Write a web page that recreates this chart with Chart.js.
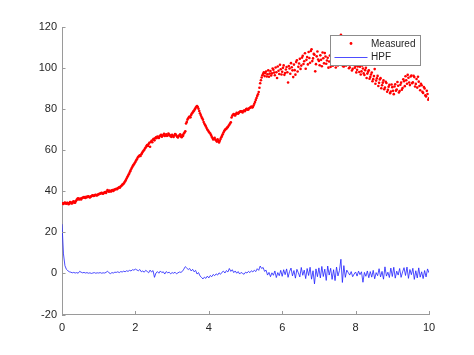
<!DOCTYPE html>
<html>
<head>
<meta charset="utf-8">
<script src="https://cdn.jsdelivr.net/npm/chart.js@4/dist/chart.umd.min.js"></script>
<style>
  html, body { margin: 0; padding: 0; background: #fff; }
  #wrap { width: 474px; height: 355px; }
</style>
</head>
<body>
<div id="wrap"><canvas id="c" width="474" height="355"></canvas></div>
<script>
// sample spacing of the recorded signals (seconds)
const dtMeasured = 0.02;
const dtHpf = 0.04;
const seriesNames = ["Measured", "HPF"];
const xTickValues = [0, 2, 4, 6, 8, 10];
const yTickValues = [-20, 0, 20, 40, 60, 80, 100, 120];

// Measured values (t = 0 .. 10 s, every 0.02 s)
const measured = [
  34.2, 34.0, 33.8, 34.3, 34.5, 34.1, 33.9, 34.4, 34.3, 33.7, 34.0, 34.8, 34.6, 34.1, 34.2, 34.9, 35.1, 34.4, 34.5, 35.3, 35.8, 36.3, 36.6, 36.0, 36.2,
  36.5, 36.0, 36.6, 36.8, 37.0, 37.2, 36.9, 36.7, 37.3, 37.1, 37.4, 37.5, 37.2, 37.0, 37.4, 37.6, 37.9, 38.0, 37.7, 37.8, 38.2, 38.3, 38.0, 38.1, 38.4,
  38.6, 38.7, 38.9, 39.0, 39.3, 38.9, 38.8, 39.2, 39.5, 39.6, 39.2, 39.9, 40.6, 40.1, 39.8, 40.3, 40.0, 39.9, 40.5, 40.6, 40.2, 40.7, 40.9, 41.0, 41.2,
  41.0, 41.5, 41.7, 42.0, 41.8, 42.4, 42.7, 43.1, 43.4, 43.8, 44.3, 44.9, 45.5, 46.2, 46.9, 47.6, 48.3, 49.0, 49.8, 50.6, 51.3, 52.0, 52.6, 53.2, 53.8,
  54.3, 55.0, 55.6, 56.3, 56.8, 57.1, 57.5, 57.2, 58.0, 58.6, 59.2, 59.7, 60.1, 60.8, 61.3, 62.0, 62.5, 62.1, 63.0, 63.6, 61.7, 64.0, 64.6, 63.9, 65.2,
  65.5, 64.8, 65.8, 66.3, 65.9, 66.7, 66.4, 66.0, 66.8, 67.1, 67.5, 66.6, 67.0, 67.4, 68.0, 66.9, 67.3, 67.8, 67.0, 67.2, 68.1, 67.6, 67.3, 66.8, 66.5,
  67.5, 67.0, 66.4, 67.2, 67.9, 67.6, 67.0, 66.5, 66.2, 66.9, 67.3, 67.7, 66.8, 66.3, 67.4, 67.0, 68.1, 68.6, 69.2, 73.0, 73.8, 74.9, 75.6, 76.2, 76.4,
  76.0, 77.2, 77.9, 78.4, 78.9, 79.3, 80.0, 80.6, 81.2, 81.5, 81.0, 80.2, 79.1, 78.0, 77.1, 76.3, 75.6, 74.8, 73.7, 72.9, 72.3, 71.6, 70.8, 70.1, 69.6,
  69.0, 68.5, 68.1, 67.4, 66.6, 65.9, 65.2, 65.6, 66.0, 65.1, 64.7, 64.2, 65.3, 64.5, 63.8, 64.6, 65.5, 66.3, 67.0, 67.8, 68.6, 69.3, 69.9, 70.2, 70.5,
  71.0, 71.3, 71.9, 72.4, 73.0, 73.6, 75.9, 76.8, 77.3, 77.6, 77.1, 76.9, 77.6, 78.2, 78.0, 77.8, 78.3, 78.6, 78.9, 79.0, 78.7, 78.4, 79.1, 79.3, 79.0,
  79.6, 80.0, 80.2, 79.7, 79.8, 80.4, 80.7, 80.9, 81.3, 80.8, 81.0, 81.8, 82.6, 83.5, 84.5, 85.4, 86.4, 87.2, 88.3, 90.4, 92.6, 94.1, 95.4, 96.5, 97.2,
  98.0, 96.1, 97.5, 98.3, 95.9, 97.0, 98.9, 95.8, 97.3, 98.6, 96.4, 97.4, 99.8, 99.2, 97.8, 96.5, 100.3, 98.0, 95.2, 100.8, 98.7, 97.1, 101.6, 99.4, 96.9,
  98.2, 100.1, 101.3, 96.7, 97.6, 99.3, 100.5, 98.0, 93.0, 101.0, 99.8, 97.2, 102.4, 100.4, 98.9, 95.6, 101.7, 99.0, 96.8, 102.9, 103.8, 98.3, 100.6, 102.2, 104.5,
  99.6, 101.2, 105.1, 106.0, 102.0, 103.3, 107.2, 99.7, 104.0, 105.4, 101.8, 107.8, 104.9, 102.6, 108.3, 109.2, 103.4, 104.7, 106.9, 106.5, 98.4, 101.9, 105.7, 108.1, 104.2,
  103.5, 101.4, 106.2, 104.0, 100.9, 107.6, 104.8, 102.3, 107.3, 105.6, 102.1, 103.7, 105.0, 100.2, 103.2, 106.1, 100.6, 102.9, 104.4, 101.1, 106.8, 103.6, 102.0, 100.3, 105.5,
  103.0, 101.3, 104.7, 103.9, 102.4, 116.2, 105.3, 102.7, 100.9, 100.8, 103.5, 104.6, 101.2, 101.9, 102.6, 103.1, 99.9, 100.4, 101.7, 102.8, 98.8, 99.6, 102.0, 101.5, 100.2,
  101.0, 97.9, 99.2, 100.8, 102.3, 98.1, 100.7, 96.9, 98.4, 101.2, 99.8, 97.4, 96.6, 99.0, 100.1, 95.2, 97.3, 98.2, 98.9, 94.8, 95.7, 96.9, 97.8, 93.6, 94.6,
  96.1, 99.5, 92.4, 93.9, 95.0, 96.2, 91.3, 92.8, 94.4, 95.1, 90.2, 91.6, 92.9, 94.0, 89.7, 90.5, 93.3, 92.7, 88.5, 89.4, 90.9, 91.8, 87.8, 88.6, 92.0,
  90.7, 88.9, 87.3, 91.0, 92.1, 89.0, 89.6, 93.2, 91.4, 88.1, 88.8, 91.9, 92.9, 89.5, 90.3, 94.5, 93.6, 91.2, 96.0, 94.1, 92.4, 96.7, 95.3, 93.0, 91.7,
  95.9, 96.4, 92.6, 93.1, 96.2, 95.6, 91.0, 92.3, 94.7, 90.5, 95.8, 93.4, 91.3, 89.2, 92.4, 91.6, 88.4, 87.9, 90.8, 90.1, 86.7, 86.2, 88.9, 87.4, 84.6,
  85.3
];

// High-pass filtered values (t = 0 .. 10 s, every 0.04 s)
const hpf = [
  24.0, 9.5, 3.8, 2.0, 1.3, 0.8, 0.6, 0.3, 0.5, 0.2, 0.4, 0.1, 1.0, 0.6, 0.3, 0.5, 0.2, 0.4, 0.1, 0.3, 0.0, 0.2, 0.4, 0.1, 0.3,
  0.2, 0.4, 0.1, 0.3, 0.2, 0.5, 1.1, 0.3, -0.1, 0.4, 0.2, 0.6, 0.5, 0.8, 0.4, 0.9, 0.7, 1.1, 0.8, 1.3, 1.0, 1.5, 1.2, 1.8, 1.6,
  2.1, 1.7, 1.3, 1.9, 0.8, 1.2, 0.6, 1.5, 1.0, 0.3, 1.6, 0.7, 1.4, -1.9, 0.2, 0.9, 0.1, 1.2, 0.4, 0.8, -0.3, 0.9, 0.3, 0.6, -0.2,
  0.4, 0.1, 0.6, -0.2, 0.3, 0.7, 0.5, 1.0, 2.1, 3.3, 2.6, 1.9, 2.4, 1.2, 2.0, 0.8, 1.5, -0.3, 0.4, -1.2, -1.9, -2.7, -1.8, -2.4, -1.3,
  -2.2, -1.0, -1.6, -0.5, -1.1, -0.2, -0.8, 0.3, -0.4, 0.6, 1.1, 0.2, 1.4, 0.7, 2.4, 1.0, 1.8, 0.4, 1.2, 0.1, 0.9, -0.3, 0.5, 0.0, -0.4,
  0.6, 0.2, 1.0, 0.4, 1.3, 0.7, 1.6, 0.9, 2.3, 1.5, 3.6, 2.4, 2.9, 1.0, 1.6, -0.8, 0.5, -1.6, 0.3, -0.9, 1.2, -2.0, 0.4, -1.1, 1.5,
  -1.4, 1.8, -0.6, 2.2, -1.9, 0.9, 2.6, -1.2, 1.4, -2.3, 2.0, 0.3, -1.7, 2.9, -0.9, 1.6, -2.5, 2.4, -1.0, 3.0, -2.8, 1.3, -5.1, 2.2, -1.6,
  2.7, -2.2, 3.4, -1.5, 2.1, -3.4, 3.6, -0.8, 2.5, -2.9, 1.8, -3.5, 3.1, -1.2, 1.4, 6.9, -4.4, 3.8, -1.9, 1.6, 0.4, -0.8, 0.9, -1.6, -0.3,
  0.7, -1.3, 1.1, -0.6, 0.8, -4.3, 0.5, -1.4, 1.2, -2.1, 0.9, -1.8, 1.5, -2.6, 0.4, -1.1, 2.3, -1.7, 1.0, -2.8, 3.2, -1.3, 0.6, -2.0, 2.6,
  -1.5, 3.0, -2.3, 1.1, -0.8, 2.4, -1.9, 0.7, 2.8, -1.0, 3.1, -2.4, 1.9, -0.6, 2.5, -2.9, 1.3, -2.2, 2.7, -1.8, 0.8, -2.5, 1.4, -1.7, 2.2, 0.3
];

const toPoints = (arr, dt) => arr.map((v, i) => ({ x: +(i * dt).toFixed(2), y: v }));

const AXIS_COLOR = '#9a9a9a';
const TEXT_COLOR = '#262626';
const FONT = 'Arial, "Liberation Sans", Helvetica, sans-serif';

const inwardTicks = {
  id: 'inwardTicks',
  afterDraw(chart) {
    const { ctx, chartArea, scales } = chart;
    ctx.save();
    ctx.strokeStyle = AXIS_COLOR;
    ctx.lineWidth = 1;
    ctx.beginPath();
    xTickValues.forEach(v => {
      const px = Math.round(scales.x.getPixelForValue(v)) + 0.5;
      ctx.moveTo(px, chartArea.bottom);
      ctx.lineTo(px, chartArea.bottom - 3.5);
    });
    yTickValues.forEach(v => {
      const py = Math.round(scales.y.getPixelForValue(v)) + 0.5;
      ctx.moveTo(chartArea.left, py);
      ctx.lineTo(chartArea.left + 3.5, py);
    });
    ctx.stroke();
    ctx.restore();
  }
};

const boxLegend = {
  id: 'boxLegend',
  afterDatasetsDraw(chart) {
    const { ctx } = chart;
    const x0 = 330.5, y0 = 35.5, w = 90, h = 30;
    ctx.save();
    ctx.fillStyle = '#ffffff';
    ctx.fillRect(x0, y0, w, h);
    ctx.strokeStyle = '#8c8c8c';
    ctx.lineWidth = 1;
    ctx.strokeRect(x0, y0, w, h);
    // Measured entry
    ctx.fillStyle = chart.data.datasets[0].backgroundColor;
    ctx.beginPath();
    ctx.arc(351, 43.5, 1.4, 0, Math.PI * 2);
    ctx.fill();
    // HPF entry
    ctx.strokeStyle = chart.data.datasets[1].borderColor;
    ctx.lineWidth = 0.8;
    ctx.beginPath();
    ctx.moveTo(334.5, 57.5);
    ctx.lineTo(367.5, 57.5);
    ctx.stroke();
    ctx.fillStyle = TEXT_COLOR;
    ctx.font = '10px ' + FONT;
    ctx.textBaseline = 'middle';
    ctx.textAlign = 'left';
    ctx.fillText(chart.data.datasets[0].label, 371, 44);
    ctx.fillText(chart.data.datasets[1].label, 371, 57.5);
    ctx.restore();
  }
};

new Chart(document.getElementById('c'), {
  type: 'scatter',
  data: {
    datasets: [
      {
        label: seriesNames[0],
        data: toPoints(measured, dtMeasured),
        showLine: false,
        backgroundColor: '#ff0000',
        borderWidth: 0,
        pointRadius: 1.3,
        pointHoverRadius: 1.3
      },
      {
        label: seriesNames[1],
        data: toPoints(hpf, dtHpf),
        showLine: true,
        borderColor: '#2020ff',
        borderWidth: 0.8,
        pointRadius: 0,
        tension: 0,
        fill: false
      }
    ]
  },
  options: {
    responsive: false,
    animation: false,
    devicePixelRatio: 1,
    layout: { padding: { top: 27, right: 45, left: 0, bottom: 0 } },
    plugins: { legend: { display: false }, tooltip: { enabled: false } },
    scales: {
      x: {
        type: 'linear',
        min: 0, max: 10,
        afterBuildTicks: s => { s.ticks = xTickValues.map(v => ({ value: v })); },
        afterFit: s => { s.height = 40.5; },
        grid: { display: false, drawTicks: false },
        border: { display: true, color: AXIS_COLOR, width: 1 },
        ticks: { color: TEXT_COLOR, font: { size: 11, family: FONT }, padding: 7, maxRotation: 0 }
      },
      y: {
        type: 'linear',
        min: -20, max: 120,
        afterBuildTicks: s => { s.ticks = yTickValues.map(v => ({ value: v })); },
        afterFit: s => { s.width = 62; },
        grid: { display: false, drawTicks: false },
        border: { display: true, color: AXIS_COLOR, width: 1 },
        ticks: { color: TEXT_COLOR, font: { size: 11, family: FONT }, padding: 5 }
      }
    }
  },
  plugins: [inwardTicks, boxLegend]
});
</script>
</body>
</html>
